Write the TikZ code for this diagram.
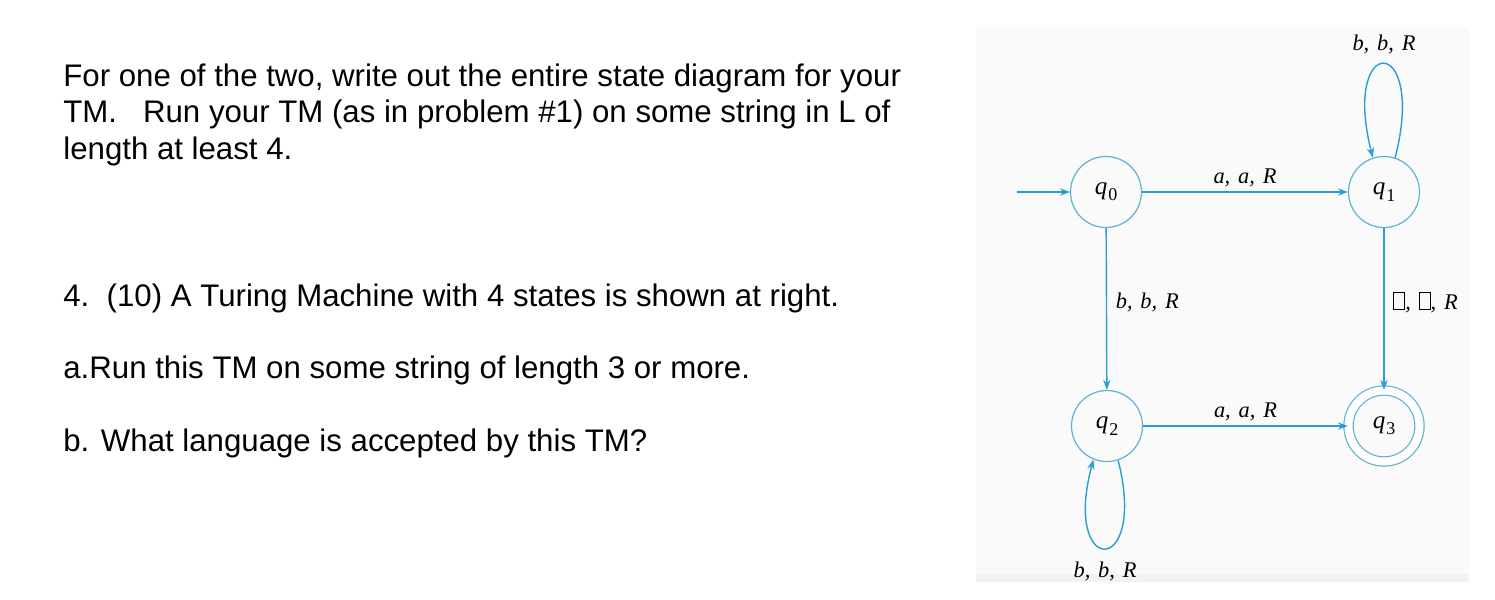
\documentclass[tikz,border=0pt]{standalone}
\usepackage{fontspec}
\setmainfont{Liberation Sans}
\newfontfamily\tmfont{Liberation Serif}
\usetikzlibrary{arrows.meta}
\definecolor{tmblue}{RGB}{40,158,212}
\definecolor{tmring}{RGB}{95,178,210}
\newcommand{\tmblank}{\mbox{\fboxsep=0pt\fboxrule=0.45pt\fbox{\rule{0pt}{0.72em}\hspace{0.45em}}}}
\newcommand{\tmrule}[3]{#1,\hspace{0.35em}#2,\hspace{0.35em}#3}
\newcommand{\tmstate}[1]{\textit{q}\kern0.5pt\raisebox{-0.25em}{\fontsize{9}{10}\selectfont #1}}
\begin{document}
\begin{tikzpicture}[
        x=0.5pt, y=-0.5pt,
        state/.style={circle,draw=tmring,line width=0.6pt,minimum size=35.5pt,inner sep=0pt,font=\tmfont\fontsize{12.5}{14}\selectfont},
        accept/.style={state,double=white,double distance=4pt},
        trans/.style={draw=tmblue,line width=0.7pt,-{Stealth[length=5pt,width=3.6pt]}},
        lbl/.style={font=\tmfont\itshape\fontsize{11.2}{12}\selectfont},
        para/.style={anchor=base west,align=left,inner sep=0pt,font=\fontsize{15.6}{18.25}\selectfont}
    ]
        \useasboundingbox (0,0) rectangle (1495,600);
        % Panel behind the machine
        \fill[black!2] (976,28) rectangle (1469,582);
        \fill[black!5] (976,574) rectangle (1469,582);

        % Question text
        \node[para] (intro) at (63,159) {For one of the two, write out the entire state diagram for your\\
            TM.\ \ \ Run your TM (as in problem \#1) on some string in L of\\
            length at least 4.};
        \node[para] (q4) at (63,306) {4.\ \ (10) A Turing Machine with 4 states is shown at right.};
        \node[para] (qa) at (63,378) {a.Run this TM on some string of length 3 or more.};
        \node[para] (qb) at (63,451) {b. What language is accepted by this TM?};

        % States
        \node[state] (q0) at (1106,192) {\tmstate{0}};
        \node[state] (q1) at (1384,192) {\tmstate{1}};
        \node[state] (q2) at (1107,426) {\tmstate{2}};
        \node[accept] (q3) at (1384,426) {\tmstate{3}};
        \coordinate (start) at (1017,192);

        % Transitions
        \draw[trans] (start) -- (q0);
        \draw[trans] (q0) -- node[lbl,above,yshift=-1pt] {\tmrule{a}{a}{R}} (q1);
        \draw[trans] (q2) -- node[lbl,above,yshift=-1pt] {\tmrule{a}{a}{R}} (q3);
        \draw[trans] (q0) -- node[lbl,pos=0.46,right,xshift=1pt] {\tmrule{b}{b}{R}} (q2);
        \draw[trans] (q1) -- node[lbl,pos=0.46,right,xshift=1pt] {\tmrule{\tmblank}{\tmblank}{R}} (q3);
        \draw[trans] (q1.72) .. controls +(32,-125) and +(-32,-125) .. node[lbl,above=1.5pt] {\tmrule{b}{b}{R}} (q1.108);
        \draw[trans] (q2.-72) .. controls +(30,118) and +(-32,118) .. node[lbl,below=3pt] {\tmrule{b}{b}{R}} (q2.-112);
    \end{tikzpicture}
\end{document}
